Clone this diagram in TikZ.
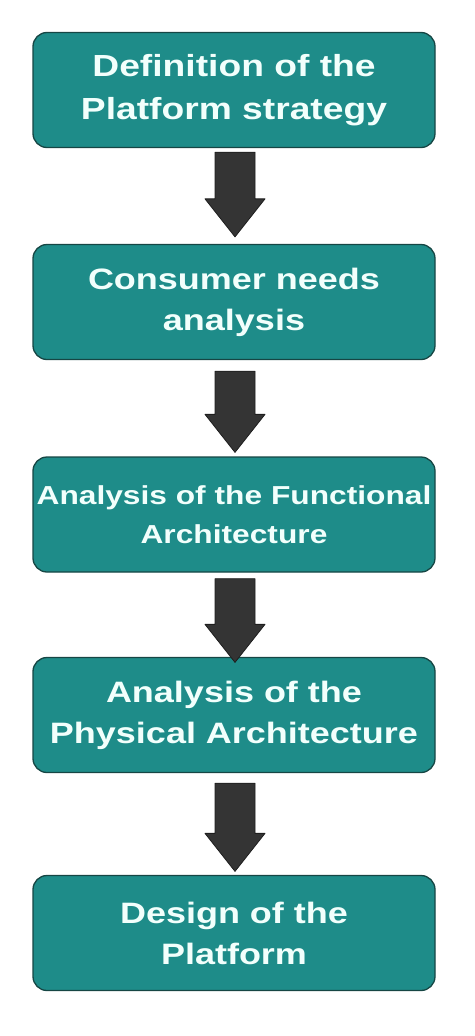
\documentclass[tikz,border=0pt]{standalone}
\usepackage{fontspec}
\newfontfamily\boxfont[FakeStretch=1.22]{Liberation Sans}
\usetikzlibrary{calc}
\definecolor{tealfill}{RGB}{30,140,137}
\definecolor{tealedge}{RGB}{22,70,68}
\definecolor{arrowfill}{RGB}{52,52,52}
\definecolor{arrowedge}{RGB}{30,30,30}
\definecolor{boxtext}{RGB}{242,255,252}
\newcommand\flowarrow[2]{%
  \draw[blockarrow] let \p1=(#1), \p2=(#2) in
    (\x1-20pt,\y1) -- (\x1+20pt,\y1) -- (\x1+20pt,\y2+38pt) -- (\x1+30pt,\y2+38pt)
    -- (\x2,\y2) -- (\x1-30pt,\y2+38pt) -- (\x1-20pt,\y2+38pt) -- cycle;}
\begin{document}
\begin{tikzpicture}[x=1pt,y=-1pt,
  stepbox/.style={draw=tealedge, line width=1.3pt, fill=tealfill, rounded corners=14pt,
    minimum width=402pt, minimum height=115pt, inner sep=0pt, text=boxtext, align=center,
    font=\boxfont\bfseries\fontsize{29.5}{41}\selectfont},
  bigtext/.style={font=\boxfont\bfseries\fontsize{30.5}{43}\selectfont},
  smalltext/.style={font=\boxfont\bfseries\fontsize{26}{39}\selectfont},
  blockarrow/.style={draw=arrowedge, fill=arrowfill, line width=0.8pt, line join=round}]
\useasboundingbox (0,0) rectangle (474,1036);
\node[stepbox, bigtext] (b1) at (234,90) {Definition of the\\Platform strategy};
\node[stepbox] (b2) at (234,302) {Consumer needs\\analysis};
\node[stepbox, smalltext] (b3) at (234,514.5) {Analysis of the Functional\\Architecture};
\node[stepbox] (b4) at (234,715) {Analysis of the\\Physical Architecture};
\node[stepbox] (b5) at (234,933) {Design of the\\Platform};
\coordinate (a1s) at ($(b1.south)+(1,4)$);
\coordinate (a1e) at ($(b2.north)+(1,-7)$);
\coordinate (a2s) at ($(b2.south)+(1,11)$);
\coordinate (a2e) at ($(b3.north)+(1,-4)$);
\coordinate (a3s) at ($(b3.south)+(1,6)$);
\coordinate (a3e) at ($(b4.north)+(1,5.5)$);
\coordinate (a4s) at ($(b4.south)+(1,10)$);
\coordinate (a4e) at ($(b5.north)+(1,-3.5)$);
\flowarrow{a1s}{a1e}
\flowarrow{a2s}{a2e}
\flowarrow{a3s}{a3e}
\flowarrow{a4s}{a4e}
\end{tikzpicture}
\end{document}
